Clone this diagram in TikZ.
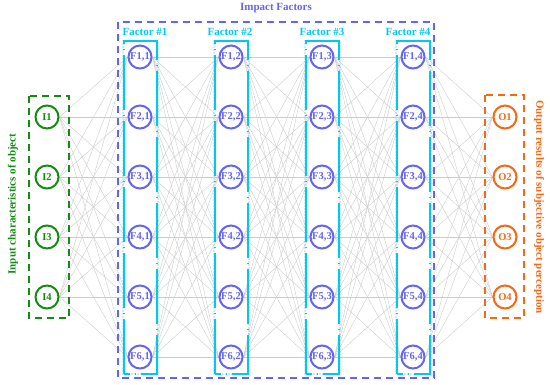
\documentclass[tikz,border=0pt]{standalone}
\usepackage{fontspec}
\setmainfont{Liberation Serif}
\usetikzlibrary{backgrounds}
\definecolor{ingreen}{RGB}{20,140,20}
\definecolor{factorblue}{RGB}{100,100,245}
\definecolor{factorcyan}{RGB}{0,200,240}
\definecolor{outorange}{RGB}{245,105,20}
\begin{document}
\begin{tikzpicture}[x=1pt, y=-1pt,
  neuron/.style={circle, draw, line width=2pt, fill=white, minimum size=23pt,
    inner sep=0pt, font=\fontsize{10.5}{10.5}\selectfont\bfseries},
  innode/.style={neuron, draw=ingreen, text=ingreen},
  fnode/.style={neuron, draw=factorblue, text=factorblue},
  outnode/.style={neuron, draw=outorange, text=outorange},
  link/.style={draw=gray!40, line width=0.4pt},
  groupbox/.style={line width=1.5pt, dash pattern=on 7pt off 5pt},
  colbox/.style={draw=factorcyan, line width=1.1pt, line cap=round, dash pattern=on 0pt off 3pt},
  colline/.style={draw=factorcyan, line width=1.3pt, dash pattern=on 55pt off 5pt on 1pt off 5pt},
  title/.style={font=\fontsize{11}{11}\selectfont\bfseries},
]
\useasboundingbox (0,0) rectangle (550,384);

% ============================================================
% GROUP BOXES
% ============================================================
\draw[groupbox, draw=ingreen] (29,96) rectangle (69,318);
\draw[groupbox, draw=factorblue] (118,22) rectangle (434,378);
\draw[groupbox, draw=outorange] (485,95) rectangle (524,318);

\node[title, text=factorblue] (impact) at (276,8) {Impact Factors};
\node[title, text=ingreen, rotate=90] (inlabel) at (13,204) {Input characteristics of object};
\node[title, text=outorange, rotate=-90] (outlabel) at (539,207) {Output results of subjective object perception};

% ============================================================
% FACTOR COLUMNS
% ============================================================
\foreach \c/\cx/\lx in {1/140/145, 2/231/230, 3/322/322, 4/413/408} {
  \draw[colbox] (\cx-17,41) rectangle (\cx+18,374);
  \draw[colline] (\cx-16,374) rectangle (\cx+17,41);
  \node[title, text=factorcyan] (lab\c) at (\lx,32) {Factor \#\c};
  \foreach \r in {1,...,6}
    \node[fnode] (f\r\c) at (\cx,57+60*\r-60) {F\r,\c};
}

% ============================================================
% INPUTS AND OUTPUTS
% ============================================================
\foreach \r in {1,...,4} {
  \node[innode] (i\r) at (47,117+60*\r-60) {I\r};
  \node[outnode] (o\r) at (505,117+60*\r-60) {O\r};
}

% ============================================================
% CONNECTIONS
% ============================================================
\begin{pgfonlayer}{background}
\foreach \a in {1,...,4}
  \foreach \b in {1,...,6}
    \draw[link] (i\a.east) -- (f\b1.west);
\foreach \c [evaluate=\c as \n using int(\c+1)] in {1,2,3}
  \foreach \a in {1,...,6}
    \foreach \b in {1,...,6}
      \draw[link] (f\a\c.east) -- (f\b\n.west);
\foreach \a in {1,...,6}
  \foreach \b in {1,...,4}
    \draw[link] (f\a4.east) -- (o\b.west);
\end{pgfonlayer}

\end{tikzpicture}
\end{document}
